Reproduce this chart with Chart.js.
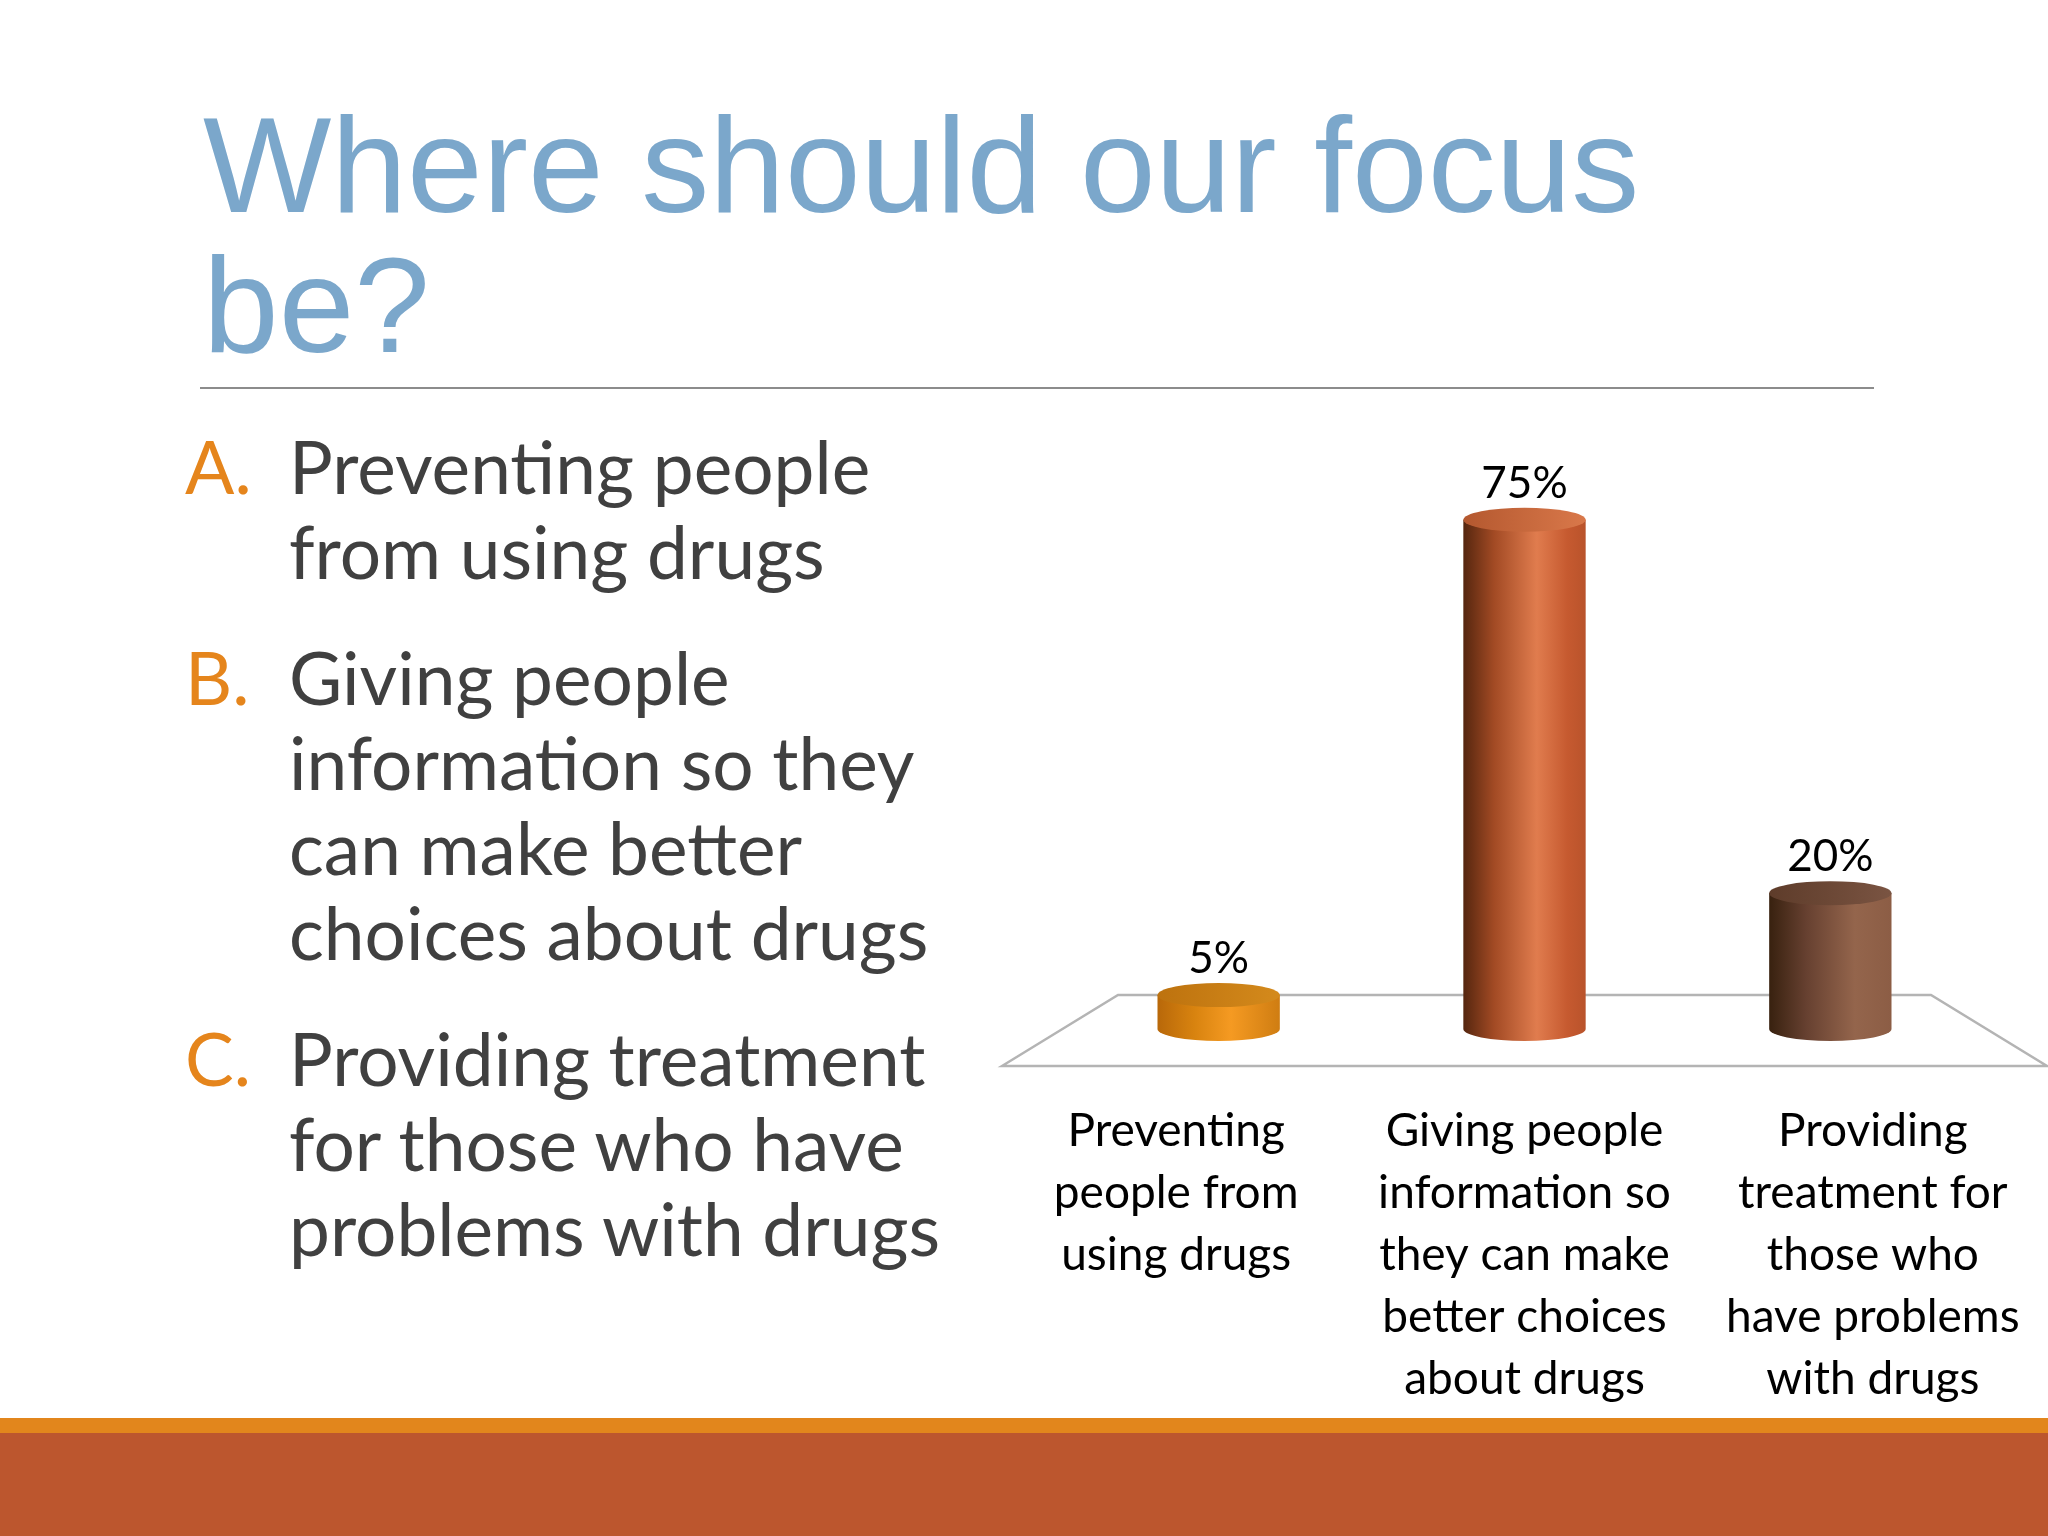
<!DOCTYPE html>
<html>
<head>
<meta charset="utf-8">
<title>Where should our focus be?</title>
<script src="https://cdn.jsdelivr.net/npm/chart.js@4.4.1/dist/chart.umd.min.js"></script>
<style>
  html, body { margin: 0; padding: 0; }
  body { width: 2048px; height: 1536px; overflow: hidden; position: relative; background: #fff; }
  #title {
    position: absolute; left: 203px; top: 95px;
    font-family: "Liberation Sans", Arial, sans-serif; font-size: 136px; line-height: 140px;
    color: #7ba7cb; white-space: nowrap;
  }
  #rule { position: absolute; left: 200px; top: 387px; width: 1674px; height: 2px; background: #8c8c8c; }
  #list { position: absolute; left: 0; top: 424px; font-family: Lato, sans-serif; font-size: 73px; line-height: 85px; color: #404040; }
  .item { position: relative; padding-left: 289px; margin-bottom: 41px; white-space: nowrap; }
  .item .mark { position: absolute; left: 185px; top: 0; color: #e5851c; }
  #chartBox { position: absolute; left: 960px; top: 300px; }
  #bandTop { position: absolute; left: 0; top: 1418px; width: 2048px; height: 15px; background: #e2861c; }
  #bandBottom { position: absolute; left: 0; top: 1433px; width: 2048px; height: 103px; background: #bc562e; }
</style>
</head>
<body>
<div id="title">Where should our focus<br>be?</div>
<div id="rule"></div>
<div id="list">
  <div class="item"><span class="mark">A.</span>Preventing people<br>from using drugs</div>
  <div class="item"><span class="mark">B.</span>Giving people<br>information so they<br>can make better<br>choices about drugs</div>
  <div class="item"><span class="mark">C.</span>Providing treatment<br>for those who have<br>problems with drugs</div>
</div>
<div id="chartBox"><canvas id="focusChart" width="1140" height="1191"></canvas></div>
<div id="bandTop"></div>
<div id="bandBottom"></div>

<script>
"use strict";
// chart data
var categories = [
    ["Preventing", "people from", "using drugs"],
    ["Giving people", "information so", "they can make", "better choices", "about drugs"],
    ["Providing", "treatment for", "those who", "have problems", "with drugs"]
];
var percentages = [5, 75, 20];

// cylinder shading: [offset, colour] stops across the body, and the top cap colours
var bodyStops = [
    [[0, "#b8680a"], [0.3, "#d8830f"], [0.6, "#f59a22"], [1, "#cf7d12"]],
    [[0, "#55260f"], [0.25, "#a24a24"], [0.6, "#e07c4e"], [0.85, "#c65a30"], [1, "#b9532b"]],
    [[0, "#38210f"], [0.3, "#664030"], [0.7, "#94654c"], [1, "#8c5d45"]]
];
var capColors = [["#bd720e", "#d48a1c"], ["#b4582f", "#d9784a"], ["#5e3c2a", "#7a5442"]];

var depth = 0.878;     // how far back the bars stand on the floor
var capRy = 12;

var cylinderPlugin = {
    id: "cylinders",
    beforeDatasetsDraw: function (chart) {
        var ctx = chart.ctx;
        var area = chart.chartArea;
        var y0 = chart.scales.y.getPixelForValue(0);
        var cx = (area.left + area.right) / 2;
        var half = (area.right - area.left) / 2;
        var backHalf = half * 0.778;
        ctx.save();
        ctx.strokeStyle = "#b4b4b4";
        ctx.lineWidth = 2.5;
        ctx.beginPath();
        ctx.moveTo(area.left, y0 + 37);
        ctx.lineTo(cx - backHalf, y0 - 34);
        ctx.lineTo(cx + backHalf, y0 - 34);
        ctx.lineTo(area.right, y0 + 37);
        ctx.closePath();
        ctx.stroke();
        ctx.restore();
    },
    afterDatasetsDraw: function (chart) {
        var ctx = chart.ctx;
        var area = chart.chartArea;
        var cx = (area.left + area.right) / 2;
        var meta = chart.getDatasetMeta(0);
        meta.data.forEach(function (bar, i) {
            var p = bar.getProps(["x", "y", "base", "width"], true);
            var x = cx + (p.x - cx) * depth;
            var r = p.width * depth / 2;
            var top = p.y, base = p.base;

            var grad = ctx.createLinearGradient(x - r, 0, x + r, 0);
            bodyStops[i].forEach(function (s) { grad.addColorStop(s[0], s[1]); });
            ctx.save();
            ctx.fillStyle = grad;
            ctx.beginPath();
            ctx.moveTo(x - r, top);
            ctx.lineTo(x - r, base);
            ctx.ellipse(x, base, r, capRy, 0, Math.PI, 0, true);
            ctx.lineTo(x + r, top);
            ctx.closePath();
            ctx.fill();

            var capGrad = ctx.createLinearGradient(x - r, 0, x + r, 0);
            capGrad.addColorStop(0, capColors[i][0]);
            capGrad.addColorStop(1, capColors[i][1]);
            ctx.fillStyle = capGrad;
            ctx.beginPath();
            ctx.ellipse(x, top, r, capRy, 0, 0, Math.PI * 2);
            ctx.fill();

            ctx.fillStyle = "#000";
            ctx.font = "44px Lato";
            ctx.textAlign = "center";
            ctx.textBaseline = "middle";
            ctx.fillText(percentages[i] + "%", x, top - capRy - 24);
            ctx.restore();
        });
    }
};

var focusChart = new Chart(document.getElementById("focusChart"), {
    type: "bar",
    data: {
        labels: categories,
        datasets: [{
            data: percentages,
            backgroundColor: "rgba(0,0,0,0)",
            borderWidth: 0,
            barPercentage: 0.4,
            categoryPercentage: 1
        }]
    },
    options: {
        responsive: false,
        animation: false,
        devicePixelRatio: 1,
        layout: { padding: { left: 42, right: 53, top: 50, bottom: 10 } },
        plugins: { legend: { display: false }, tooltip: { enabled: false } },
        scales: {
            x: {
                grid: { display: false, drawTicks: false, tickLength: 0 },
                border: { display: false },
                ticks: {
                    color: "#000",
                    font: { family: "Lato", size: 46, lineHeight: "62px" },
                    padding: 71,
                    maxRotation: 0,
                    autoSkip: false
                }
            },
            y: { display: false, min: 0, max: 100 }
        }
    },
    plugins: [cylinderPlugin]
});
</script>
</body>
</html>
